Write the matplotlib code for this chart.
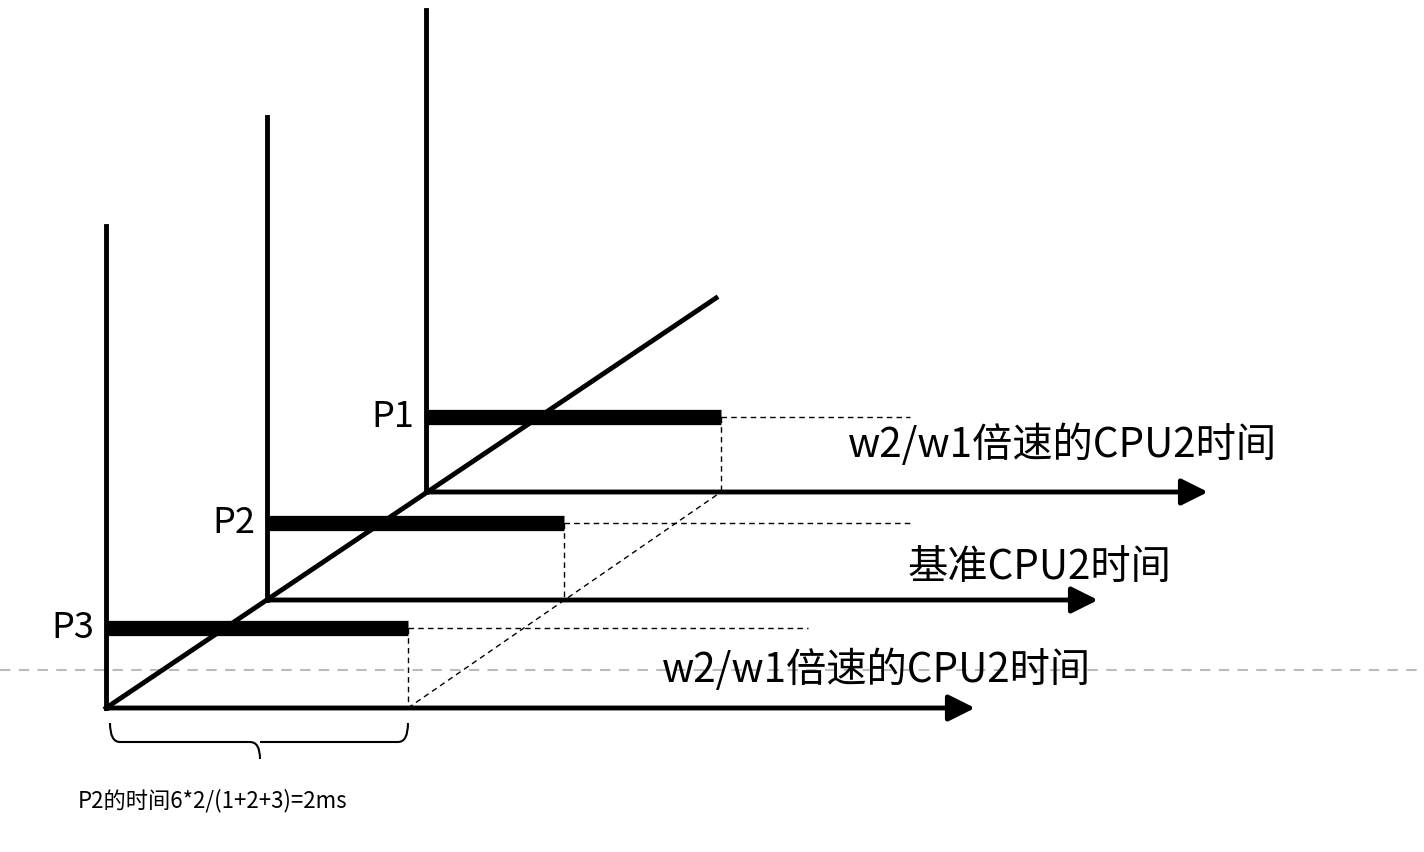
import matplotlib.pyplot as plt
from matplotlib.patches import FancyArrowPatch
from matplotlib.path import Path
from matplotlib.patches import PathPatch

plt.rcParams['font.family'] = ['Noto Sans CJK SC', 'DejaVu Sans']

# three stacked time axes (pixel coords of picture), back to front
names = ['P1', 'P2', 'P3']
origin_x = [426, 267, 106]
origin_y = [492, 600, 708]
axis_top = [10, 117, 226]
arrow_end = [1208, 1098, 975]
bar_y = [417, 523, 628]
bar_end = [721, 564, 408]
dash_end = [910, 912, 808]
axis_labels = ['w2/w1倍速的CPU2时间', '基准CPU2时间', 'w2/w1倍速的CPU2时间']
label_x = [848, 908, 662]
label_y = [445, 568, 670]
note = 'P2的时间6*2/(1+2+3)=2ms'

fig = plt.figure(figsize=(14.24, 8.52), dpi=100)
ax = fig.add_axes([0, 0, 1, 1])
ax.set_xlim(0, 1424)
ax.set_ylim(852, 0)
ax.axis('off')

# gray dashed guide
ax.plot([0, 1424], [670, 670], color='#bbbbbb', lw=1.5, ls=(0, (5, 4)))

# diagonal depth line
ax.plot([106, 716], [708, 298], color='black', lw=3.5)

for i in range(3):
    ox, oy = origin_x[i], origin_y[i]
    ax.plot([ox, ox], [oy, axis_top[i]], color='black', lw=3.5)
    ax.add_patch(FancyArrowPatch((ox, oy), (arrow_end[i], oy), arrowstyle='-|>',
                                 mutation_scale=40, lw=3.5, color='black',
                                 shrinkA=0, shrinkB=0))
    ax.plot([ox, bar_end[i]], [bar_y[i], bar_y[i]], color='black', lw=11, solid_capstyle='butt')
    ax.plot([bar_end[i], dash_end[i]], [bar_y[i], bar_y[i]], color='black', lw=1, ls=(0, (4, 3)))
    ax.plot([bar_end[i], bar_end[i]], [bar_y[i], oy], color='black', lw=1, ls=(0, (4, 3)))
    ax.text(ox - 12, bar_y[i], names[i], fontsize=26, ha='right', va='center')
    ax.text(label_x[i], label_y[i], axis_labels[i], fontsize=29, ha='left', va='center')

# dashed diagonal through the bar ends
ax.plot([bar_end[2], bar_end[0]], [origin_y[2], origin_y[0]], color='black', lw=1, ls=(0, (4, 3)))

# brace under P3 axis
x0, x1, xm = 110, 408, 260
yt, yb, ytip = 723, 742, 759
verts = [(x0, yt), (x0, yb), (x0 + 10, yb), (xm - 10, yb), (xm, yb), (xm, ytip),
         (xm, yb), (xm + 10, yb), (x1 - 10, yb), (x1, yb), (x1, yt)]
codes = [Path.MOVETO, Path.CURVE3, Path.CURVE3, Path.LINETO, Path.CURVE3, Path.CURVE3,
         Path.MOVETO, Path.CURVE3, Path.LINETO, Path.CURVE3, Path.CURVE3]
codes = [Path.MOVETO, Path.CURVE3, Path.CURVE3, Path.LINETO, Path.CURVE3, Path.CURVE3,
         Path.MOVETO, Path.LINETO, Path.LINETO, Path.CURVE3, Path.CURVE3]
ax.add_patch(PathPatch(Path(verts, codes), fill=False, lw=1.5, color='black'))
ax.text(78, 801, note, fontsize=16, ha='left', va='center')

fig.savefig('out.png', dpi=100)
